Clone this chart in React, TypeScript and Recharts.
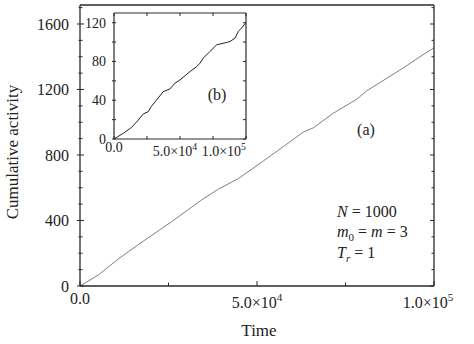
import React from "react";
import { LineChart, Line, XAxis, YAxis } from "recharts";

// Main panel (a)
const mainTime = [0, 5170, 10820, 13640, 18360, 25900, 34380, 39070, 44720, 49440, 57430, 63080, 65900, 71550, 78160, 81000, 90400, 96050, 100000];
const mainActivity = [0, 67, 165, 209, 281, 393, 526, 591, 656, 727, 851, 940, 966, 1055, 1140, 1192, 1319, 1400, 1455];

// Inset panel (b)
const insetTime = [0, 7050, 13400, 18400, 22200, 26000, 27800, 32300, 37300, 42400, 46200, 50000, 57600, 62700, 65200, 67700, 72700, 77800, 85400, 87900, 91700, 94200, 96700, 100000];
const insetActivity = [0, 5.9, 12.1, 19.6, 25.9, 28.2, 32.8, 40.3, 48.9, 51.7, 57.6, 61, 69.6, 74.8, 78.3, 83.5, 90.3, 97.2, 99.6, 100.6, 104.1, 111, 114.5, 120.3];

const timeTicks = [0, 25000, 50000, 75000, 100000];
const mainYTicks = [0, 100, 200, 300, 400, 500, 600, 700, 800, 900, 1000, 1100, 1200, 1300, 1400, 1500, 1600, 1700];
const mainYLabels = [0, 400, 800, 1200, 1600];
const insetYTicks = [0, 20, 40, 60, 80, 100, 120];
const insetYLabels = [0, 40, 80, 120];

const mainData = mainTime.map((t, i) => ({ t, v: mainActivity[i] }));
const insetData = insetTime.map((t, i) => ({ t, v: insetActivity[i] }));

const FONT = "Liberation Serif";
const AX = "#2a2a2a";
const txt = (size: number, extra: any = {}) => ({ fontFamily: FONT, fontSize: size, ...extra });

const TimeLabel = ({ x, y, v, size, shift, anchor }: any) => {
  if (v === 0) {
    return (
      <text x={x} y={y} textAnchor="middle" style={txt(size)} fill="#222">0.0</text>
    );
  }
  const mant = v === 50000 ? "5.0" : "1.0";
  const exp = v === 50000 ? "4" : "5";
  return (
    <text x={x + shift} y={y} textAnchor={anchor} style={txt(size)} fill="#222">
      <tspan>{mant}×10</tspan>
      <tspan dy={-size * 0.45} style={{ fontSize: size * 0.7 }}>{exp}</tspan>
    </text>
  );
};

const MainXTick = (props: any) => {
  const { x, y, payload } = props;
  const v = payload.value;
  const major = v % 50000 === 0;
  return (
    <g>
      <line x1={x} x2={x} y1={y} y2={y - (major ? 5 : 3.5)} stroke={AX} strokeWidth={1} />
      {major && (
        <TimeLabel x={x} y={v === 0 ? y + 18 : y + 22} v={v} size={16} shift={v === 100000 ? -6 : 0} anchor="middle" />
      )}
    </g>
  );
};

const MainYTick = (props: any) => {
  const { x, y, payload } = props;
  const v = payload.value;
  const major = mainYLabels.includes(v);
  return (
    <g>
      <line x1={x - (major ? 3 : 1.5)} x2={x + (major ? 4 : 2.5)} y1={y} y2={y} stroke={AX} strokeWidth={1} />
      {major && (
        <text x={x - 11} y={y} dy="0.35em" textAnchor="end" style={txt(16)} fill="#222">{v}</text>
      )}
    </g>
  );
};

const MainRightTick = (props: any) => {
  const { x, y, payload } = props;
  const major = mainYLabels.includes(payload.value);
  return <line x1={x} x2={x - (major ? 4 : 2.5)} y1={y} y2={y} stroke={AX} strokeWidth={1} />;
};

const InsetXTick = (props: any) => {
  const { x, y, payload } = props;
  const v = payload.value;
  const major = v % 50000 === 0;
  return (
    <g>
      <line x1={x} x2={x} y1={y} y2={y - 3} stroke={AX} strokeWidth={1} />
      {major && (
        <TimeLabel
          x={x}
          y={v === 0 ? y + 13 : y + 17}
          v={v}
          size={14}
          shift={v === 50000 ? -5 : 0}
          anchor={v === 100000 ? "end" : "middle"}
        />
      )}
    </g>
  );
};

const InsetTopTick = (props: any) => {
  const { x, y } = props;
  return <line x1={x} x2={x} y1={y} y2={y + 3} stroke={AX} strokeWidth={1} />;
};

const InsetYTick = (props: any) => {
  const { x, y, payload } = props;
  const v = payload.value;
  const major = insetYLabels.includes(v);
  return (
    <g>
      <line x1={x - 2} x2={x + 2} y1={y} y2={y} stroke={AX} strokeWidth={1} />
      {major && (
        <text x={x - 8} y={y} dy="0.35em" textAnchor="end" style={txt(14)} fill="#222">{v}</text>
      )}
    </g>
  );
};

const InsetRightTick = (props: any) => {
  const { x, y } = props;
  return <line x1={x} x2={x - 3} y1={y} y2={y} stroke={AX} strokeWidth={1} />;
};

export default function App() {
  return (
    <div style={{ position: "absolute", left: 0, top: 0, width: 474, height: 344, background: "#fff", overflow: "hidden", fontFamily: FONT }}>
      <div style={{ position: "absolute", left: 0, top: 0 }}>
        <LineChart width={474} height={344} data={mainData} margin={{ top: 4, right: 39, bottom: 0, left: 0 }}>
          <XAxis
            dataKey="t"
            type="number"
            domain={[0, 100000]}
            ticks={timeTicks}
            height={58}
            tickSize={0}
            tickMargin={0}
            tick={<MainXTick />}
            tickLine={false}
            axisLine={{ stroke: AX, strokeWidth: 1.3 }}
            interval={0}
            allowDataOverflow
          />
          <XAxis
            xAxisId="top"
            orientation="top"
            dataKey="t"
            type="number"
            domain={[0, 100000]}
            ticks={timeTicks}
            height={1}
            tickSize={0}
            tickMargin={0}
            tick={() => <g />}
            tickLine={false}
            axisLine={{ stroke: AX, strokeWidth: 1.3 }}
            interval={0}
            allowDataOverflow
          />
          <YAxis
            type="number"
            domain={[0, 1716]}
            ticks={mainYTicks}
            width={80}
            tickSize={0}
            tickMargin={0}
            tick={<MainYTick />}
            tickLine={false}
            axisLine={{ stroke: AX, strokeWidth: 1.3 }}
            interval={0}
            allowDataOverflow
          />
          <YAxis
            yAxisId="right"
            orientation="right"
            type="number"
            domain={[0, 1716]}
            ticks={mainYTicks}
            width={1}
            tickSize={0}
            tickMargin={0}
            tick={<MainRightTick />}
            tickLine={false}
            axisLine={{ stroke: AX, strokeWidth: 1.3 }}
            interval={0}
            allowDataOverflow
          />
          <Line xAxisId="top" yAxisId="right" dataKey="v" stroke="none" strokeWidth={0} dot={false} activeDot={false} legendType="none" isAnimationActive={false} />
          <Line dataKey="v" stroke="#707070" strokeWidth={0.9} dot={false} isAnimationActive={false} />
        </LineChart>
      </div>
      <div style={{ position: "absolute", left: 0, top: 0 }}>
        <LineChart width={260} height={165} data={insetData} margin={{ top: 12, right: 13, bottom: 0, left: 0 }}>
          <XAxis
            dataKey="t"
            type="number"
            domain={[0, 100000]}
            ticks={timeTicks}
            height={26}
            tickSize={0}
            tickMargin={0}
            tick={<InsetXTick />}
            tickLine={false}
            axisLine={{ stroke: AX, strokeWidth: 1.2 }}
            interval={0}
            allowDataOverflow
          />
          <XAxis
            xAxisId="top"
            orientation="top"
            dataKey="t"
            type="number"
            domain={[0, 100000]}
            ticks={timeTicks}
            height={1}
            tickSize={0}
            tickMargin={0}
            tick={<InsetTopTick />}
            tickLine={false}
            axisLine={{ stroke: AX, strokeWidth: 1.2 }}
            interval={0}
            allowDataOverflow
          />
          <YAxis
            type="number"
            domain={[0, 130]}
            ticks={insetYTicks}
            width={114}
            tickSize={0}
            tickMargin={0}
            tick={<InsetYTick />}
            tickLine={false}
            axisLine={{ stroke: AX, strokeWidth: 1.2 }}
            interval={0}
            allowDataOverflow
          />
          <YAxis
            yAxisId="right"
            orientation="right"
            type="number"
            domain={[0, 130]}
            ticks={insetYTicks}
            width={1}
            tickSize={0}
            tickMargin={0}
            tick={<InsetRightTick />}
            tickLine={false}
            axisLine={{ stroke: AX, strokeWidth: 1.2 }}
            interval={0}
            allowDataOverflow
          />
          <Line xAxisId="top" yAxisId="right" dataKey="v" stroke="none" strokeWidth={0} dot={false} activeDot={false} legendType="none" isAnimationActive={false} />
          <Line dataKey="v" stroke="#222" strokeWidth={1} dot={false} isAnimationActive={false} />
        </LineChart>
      </div>
      <svg width={474} height={344} style={{ position: "absolute", left: 0, top: 0, pointerEvents: "none" }}>
        <text x={18} y={152} transform="rotate(-90 18 152)" textAnchor="middle" style={txt(17)} fill="#222">Cumulative activity</text>
        <text x={259} y={336} textAnchor="middle" style={txt(17)} fill="#222">Time</text>
        <text x={366} y={135} textAnchor="middle" style={txt(16)} fill="#222">(a)</text>
        <text x={217} y={100} textAnchor="middle" style={txt(16)} fill="#222">(b)</text>
        <text x={337} y={217} style={txt(16)} fill="#222">
          <tspan style={{ fontStyle: "italic" }}>N</tspan><tspan> = 1000</tspan>
        </text>
        <text x={337} y={237} style={txt(16)} fill="#222">
          <tspan style={{ fontStyle: "italic" }}>m</tspan><tspan dy={4} style={{ fontSize: 11 }}>0</tspan><tspan dy={-4}> = </tspan><tspan style={{ fontStyle: "italic" }}>m</tspan><tspan> = 3</tspan>
        </text>
        <text x={337} y={258} style={txt(16)} fill="#222">
          <tspan style={{ fontStyle: "italic" }}>T</tspan><tspan dy={4} style={{ fontSize: 11, fontStyle: "italic" }}>r</tspan><tspan dy={-4}> = 1</tspan>
        </text>
      </svg>
    </div>
  );
}
